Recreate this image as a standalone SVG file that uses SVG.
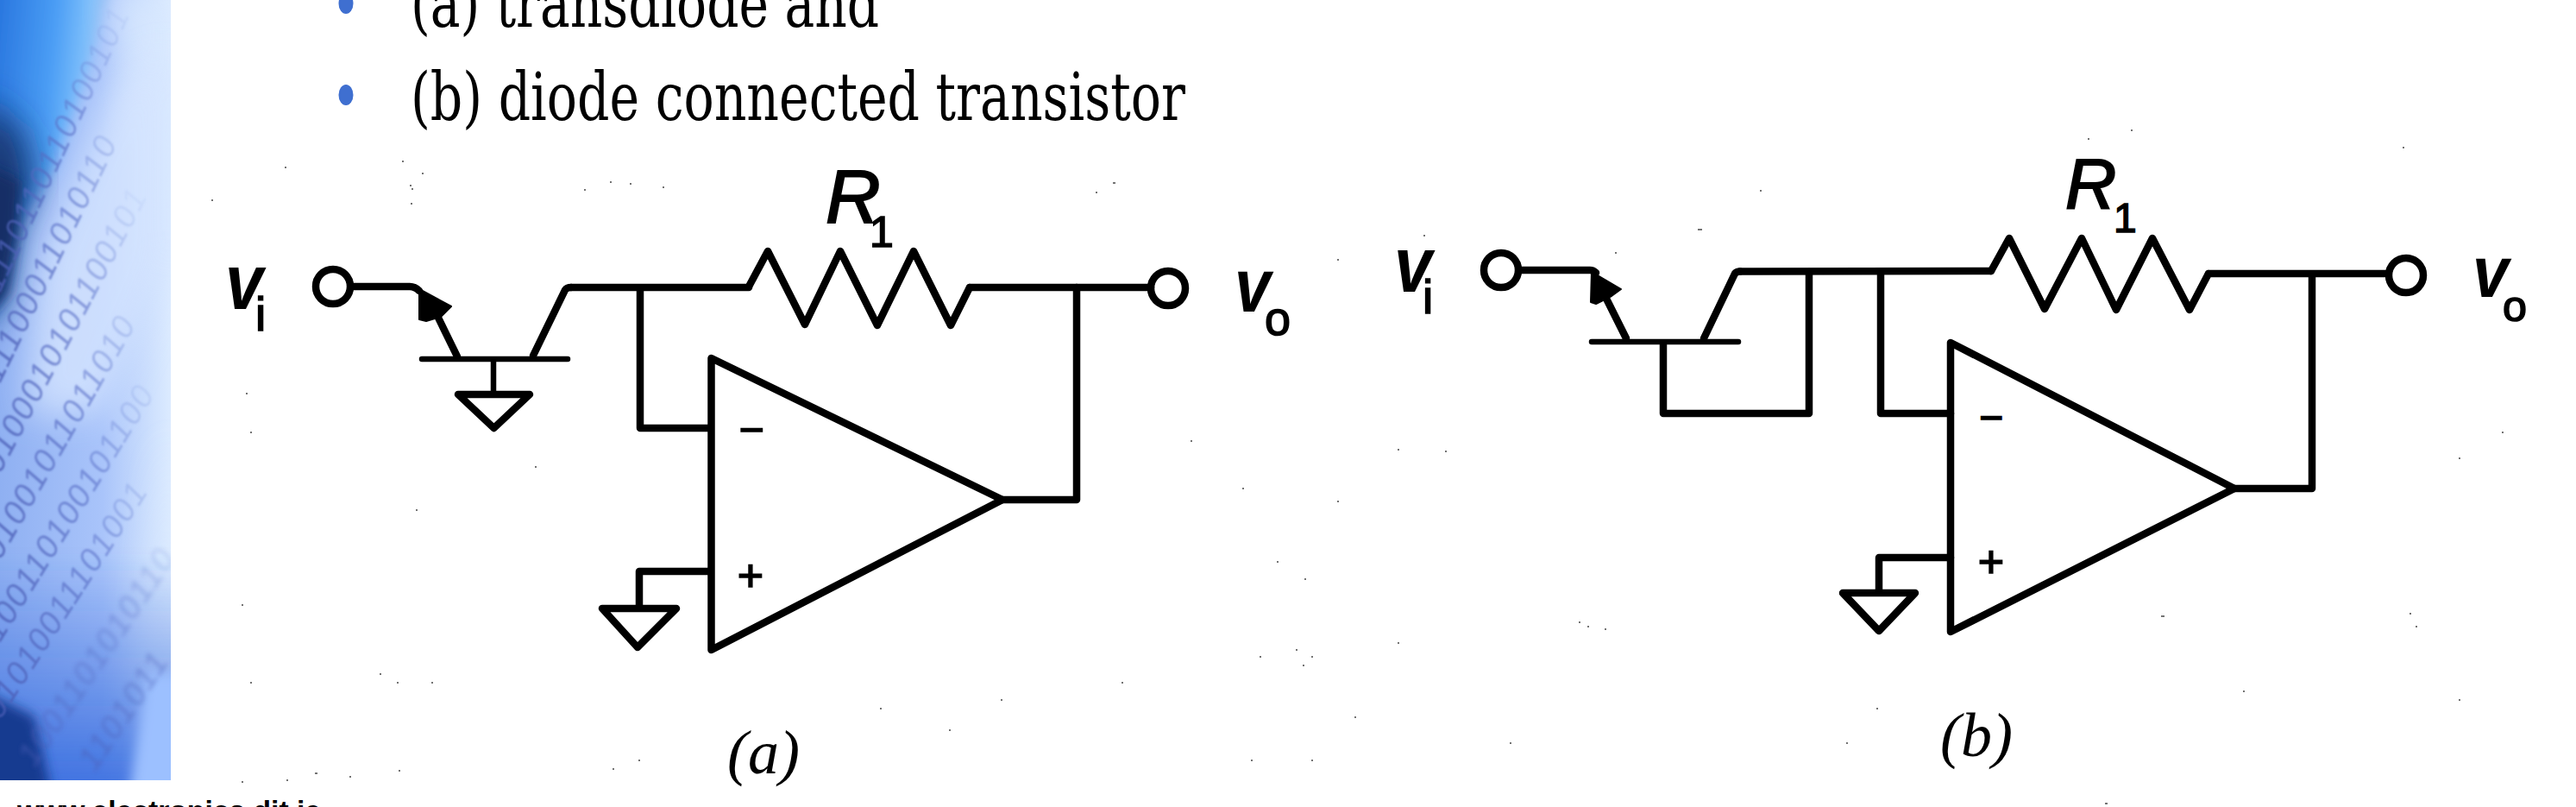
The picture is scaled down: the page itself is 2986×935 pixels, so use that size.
<svg xmlns="http://www.w3.org/2000/svg" width="2986" height="935" viewBox="0 0 2986 935">
<style>
.w{fill:none;stroke:#000;stroke-width:8.5;stroke-linejoin:round;stroke-linecap:round}
.t{stroke-width:6.5}
.k{fill:#000;stroke:#000;stroke-width:2;stroke-linejoin:round}
.lab{font-family:"Liberation Sans",Arial,sans-serif;fill:#000}
.big{font-style:italic;font-weight:700}
.rr{font-style:italic;stroke:#000;stroke-width:2}
.sub{stroke:#000;stroke-width:1.6}
.cap{font-family:"Liberation Serif","Times New Roman",serif;font-style:italic;font-size:72px;fill:#000}
.hd{font-family:"DejaVu Serif",serif;font-stretch:condensed;font-size:76px;fill:#000}
.dg{font-family:"Liberation Sans",Arial,sans-serif;font-style:italic;font-size:38px;letter-spacing:2px;fill:url(#dgf)}
</style>
<defs>
<linearGradient id="base" x1="0" y1="0" x2="1" y2="0"><stop offset="0" stop-color="#8fb0f2"/><stop offset="0.6" stop-color="#a9c4fa"/><stop offset="1" stop-color="#dcebff"/></linearGradient>
<linearGradient id="dgf" gradientUnits="userSpaceOnUse" x1="0" y1="0" x2="370" y2="0"><stop offset="0" stop-color="#4a5cb4" stop-opacity="0.8"/><stop offset="0.6" stop-color="#5a70c8" stop-opacity="0.6"/><stop offset="1" stop-color="#7f98e0" stop-opacity="0.05"/></linearGradient>
<linearGradient id="low" x1="0" y1="0" x2="0" y2="1"><stop offset="0" stop-color="#2f62d8" stop-opacity="0"/><stop offset="1" stop-color="#2a62dc" stop-opacity="0.85"/></linearGradient>
<linearGradient id="sky" x1="0" y1="0" x2="1" y2="0.25"><stop offset="0" stop-color="#1f6bd8"/><stop offset="0.55" stop-color="#4a9df5"/><stop offset="0.8" stop-color="#7fc0fb"/><stop offset="1" stop-color="#9bb4e8"/></linearGradient>
<filter id="b20" x="-40%" y="-40%" width="180%" height="180%"><feGaussianBlur stdDeviation="20"/></filter>
<filter id="b8" x="-30%" y="-30%" width="160%" height="160%"><feGaussianBlur stdDeviation="7"/></filter>
<filter id="b1" x="-10%" y="-10%" width="120%" height="120%"><feGaussianBlur stdDeviation="1.1"/></filter>
<filter id="b3" x="-10%" y="-10%" width="120%" height="120%"><feGaussianBlur stdDeviation="2.5"/></filter>
<clipPath id="panel"><rect x="0" y="0" width="198" height="904"/></clipPath>
</defs>
<rect width="2986" height="935" fill="#fff"/>
<g id="panel-art" clip-path="url(#panel)">
<rect width="198" height="904" fill="url(#base)"/>
<path d="M-20 -20H130L105 70L65 190L25 260L12 330L-20 390Z" fill="url(#sky)" filter="url(#b8)"/>
<path d="M-30 110L25 150L40 210L15 270L6 340L-30 390Z" fill="#143470" filter="url(#b20)"/>
<path d="M-20 190L22 210L20 270L8 340L-20 370Z" fill="#132f66" filter="url(#b8)"/>
<path d="M125 -10L198 -10L198 904L150 904L198 500L198 300Z" fill="#dcebff" opacity="0.7" filter="url(#b20)"/>
<path d="M45 300L130 100L198 60L198 300L120 480L30 480Z" fill="#d6e5ff" opacity="0.8" filter="url(#b20)"/>
<rect x="-20" y="640" width="240" height="280" fill="url(#low)" filter="url(#b8)"/>
<path d="M-20 800L40 830L60 920L-20 920Z" fill="#143a90" filter="url(#b8)"/>
<path d="M170 780L220 780V920H150Z" fill="#9cc0ff" filter="url(#b8)"/>
<g filter="url(#b1)">
<text class="dg" transform="translate(0,340) rotate(-65)">1110110110100101</text>
<text class="dg" transform="translate(0,445) rotate(-64)">11100011010110</text>
<text class="dg" transform="translate(0,550) rotate(-62)">0100010101100101</text>
<text class="dg" transform="translate(0,650) rotate(-60)">01001011011010</text>
<text class="dg" transform="translate(0,745) rotate(-58)">100110100101100</text>
<text class="dg" transform="translate(0,835) rotate(-57)">01010011101001</text>
</g>
<g filter="url(#b3)" opacity="0.7">
<text class="dg" transform="translate(40,890) rotate(-56)">1001101010110</text>
<text class="dg" transform="translate(110,895) rotate(-56)">1101011</text>
</g>
</g>
<g id="bullets" fill="#3f6fd0">
<ellipse cx="401" cy="4" rx="8.500" ry="12"/>
<ellipse cx="401" cy="110" rx="8.500" ry="12"/>
</g>
<g id="heading">
<text class="hd" x="476" y="31" textLength="543" lengthAdjust="spacingAndGlyphs">(a) transdiode and</text>
<text class="hd" x="476" y="139" textLength="898" lengthAdjust="spacingAndGlyphs">(b) diode connected transistor</text>
</g>
<text id="footer" class="lab" x="20" y="951" font-size="34" font-weight="700" textLength="352" lengthAdjust="spacingAndGlyphs">www.electronics.dit.ie</text>
<g id="specks" fill="#000" opacity="0.55">
<path d="M475 214h2v2h-2zM477 218h2v2h-2zM489 200h2v2h-2zM476 235h2v2h-2zM245 231h2v2h-2zM330 193h2v2h-2zM466 186h2v2h-2zM677 219h2v2h-2zM707 210h2v2h-2zM730 212h2v2h-2zM768 216h2v2h-2zM1290 211h3v2h-3zM1270 222h2v2h-2zM1550 300h2v2h-2zM285 455h2v2h-2zM290 500h2v2h-2zM482 590h2v2h-2zM620 540h2v2h-2zM280 700h2v2h-2zM500 790h2v2h-2zM440 780h2v2h-2zM460 790h2v2h-2zM290 790h2v2h-2zM365 895h3v2h-3zM280 905h2v2h-2zM332 903h2v2h-2zM405 899h2v2h-2zM462 892h2v2h-2zM1380 510h2v2h-2zM1440 565h2v2h-2zM1480 650h2v2h-2zM1460 760h2v2h-2zM1300 790h2v2h-2zM1160 810h2v2h-2zM1020 820h2v2h-2zM1100 845h2v2h-2zM740 880h2v2h-2zM710 890h2v2h-2zM1520 880h2v2h-2zM1450 880h2v2h-2zM1650 272h2v2h-2zM1968 265h5v2h-5zM1872 292h2v2h-2zM1675 522h2v2h-2zM1512 670h2v2h-2zM1570 830h2v2h-2zM1502 752h2v2h-2zM1510 770h2v2h-2zM1520 760h2v2h-2zM1620 744h2v2h-2zM1830 720h2v2h-2zM1840 725h2v2h-2zM1860 728h2v2h-2zM2505 713h4v2h-4zM2793 710h2v2h-2zM2800 725h2v2h-2zM2440 930h3v2h-3zM2175 820h2v2h-2zM1750 860h2v2h-2zM2140 860h2v2h-2zM2600 800h2v2h-2zM2850 810h2v2h-2zM2900 500h2v2h-2zM2850 530h2v2h-2zM1620 520h2v2h-2zM1550 580h2v2h-2zM2785 170h2v2h-2zM2470 150h2v2h-2zM2040 220h2v2h-2zM2420 160h2v2h-2z"/>
</g>
<g id="connectors">
<path class="w" d="M408 332H475Q481 332 486 337"/>
<path class="w" d="M662 333H868M742 333V496H822"/>
<path class="w" d="M1124 333H1334"/>
<path class="w" d="M1162 579H1248V333"/>
<path class="w t" d="M572 418V455"/>
<path class="w" d="M822 662H741V703"/>
<path class="w" d="M1762 313H1843Q1847 313 1850 316"/>
<path class="w" d="M2017 314.500L2308 314"/>
<path class="w" d="M1928 398V479H2097V315"/>
<path class="w" d="M2180 315V479H2261"/>
<path class="w" d="M2560 317H2768"/>
<path class="w" d="M2590 566H2680V318"/>
<path class="w" d="M2261 646H2178V686"/>
</g>
<g id="a-vi"><text class="lab big" x="261" y="358" font-size="90" textLength="44" lengthAdjust="spacingAndGlyphs">v</text><text class="lab sub" x="296" y="383" font-size="55">i</text></g>
<g id="a-in"><circle class="w" cx="386" cy="332" r="20"/></g>
<g id="a-transistor">
<path class="k" d="M486 335L523 355L511 367L494 372L486 370Z"/>
<path class="w" d="M507 366L530 413"/>
<path class="w t" d="M489 416H658"/>
<path class="w" d="M618 412L655 336Q657 333 662 333"/>
</g>
<g id="a-gnd1"><path class="w" d="M531 457H614L572.500 496Z"/></g>
<g id="a-r1">
<path class="w" d="M868 332L890 291L933 376L974 291L1017 377L1059 291L1102 377L1124 333"/>
<text class="lab rr" x="957" y="258" font-size="88">R</text><text class="lab sub" x="1008" y="286" font-size="50">1</text>
</g>
<g id="a-opamp">
<path class="w" d="M824.500 415V753L1162 579Z"/>
<text class="lab sub" x="871" y="515" font-size="50" text-anchor="middle">−</text>
<text class="lab sub" x="870" y="685" font-size="52" text-anchor="middle">+</text>
</g>
<g id="a-gnd2"><path class="w" d="M698 705H784L739 750Z"/></g>
<g id="a-out"><circle class="w" cx="1354" cy="334" r="20"/></g>
<g id="a-vo"><text class="lab big" x="1431" y="361" font-size="88" textLength="42" lengthAdjust="spacingAndGlyphs">v</text><text class="lab sub" x="1466" y="388" font-size="56" textLength="30" lengthAdjust="spacingAndGlyphs">o</text></g>
<text id="cap-a" class="cap" x="843" y="896">(a)</text>

<g id="b-vi"><text class="lab big" x="1616" y="338" font-size="90" textLength="44" lengthAdjust="spacingAndGlyphs">v</text><text class="lab sub" x="1649" y="363" font-size="55">i</text></g>
<g id="b-in"><circle class="w" cx="1740" cy="313" r="20"/></g>
<g id="b-transistor">
<path class="k" d="M1845 315L1879 335L1868 343L1850 352L1844 350Z"/>
<path class="w" d="M1862 346L1885 392"/>
<path class="w t" d="M1845 396H2015"/>
<path class="w" d="M1975 392L2011 317Q2013 314.500 2017 314.500"/>
</g>
<g id="b-r1">
<path class="w" d="M2308 314L2329 276L2370 358L2413 276L2453 359L2495 276L2538 359L2560 317"/>
<text class="lab rr" x="2394" y="241" font-size="82">R</text><text class="lab sub" x="2450" y="269" font-size="48">1</text>
</g>
<g id="b-opamp">
<path class="w" d="M2261 397V732L2590 566Z"/>
<text class="lab sub" x="2308" y="500" font-size="48" text-anchor="middle">−</text>
<text class="lab sub" x="2308" y="669" font-size="52" text-anchor="middle">+</text>
</g>
<g id="b-gnd"><path class="w" d="M2136 687H2220L2178 731Z"/></g>
<g id="b-out"><circle class="w" cx="2789" cy="319" r="20"/></g>
<g id="b-vo"><text class="lab big" x="2866" y="344" font-size="84" textLength="42" lengthAdjust="spacingAndGlyphs">v</text><text class="lab sub" x="2901" y="372" font-size="50" textLength="28" lengthAdjust="spacingAndGlyphs">o</text></g>
<text id="cap-b" class="cap" x="2249" y="876">(b)</text>
</svg>
